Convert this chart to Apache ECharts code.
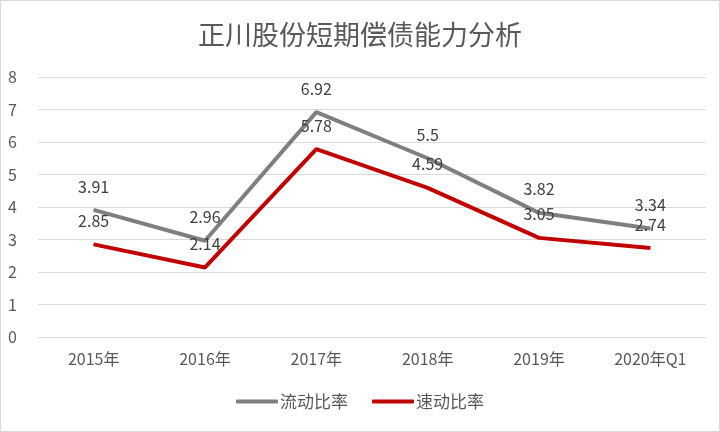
<!DOCTYPE html>
<html><head><meta charset="utf-8">
<script src="https://cdn.jsdelivr.net/npm/echarts@6/dist/echarts.min.js"></script>
<style>html,body{margin:0;padding:0;background:#fff}#c{width:720px;height:432px}</style>
</head><body><div id="c"></div>
<script>
const categories = ['2015年','2016年','2017年','2018年','2019年','2020年Q1'];
const currentRatio = [3.91, 2.96, 6.92, 5.5, 3.82, 3.34];
const quickRatio = [2.85, 2.14, 5.78, 4.59, 3.05, 2.74];
const font = '"Noto Sans CJK SC", "Noto Sans", sans-serif';
const chart = echarts.init(document.getElementById('c'));
chart.setOption({
  backgroundColor: '#fff',
  animation: false,
  title: {text: '正川股份短期偿债能力分析', left: 'center', top: 16,
    textStyle: {fontFamily: font, fontSize: 27, fontWeight: 'normal', color: '#595959'}},
  graphic: [{type: 'rect', shape: {x: 0.5, y: 0.5, width: 719, height: 431},
    style: {fill: 'none', stroke: '#d9d9d9', lineWidth: 1}, silent: true}],
  legend: {bottom: 17, itemWidth: 42, itemHeight: 4, itemGap: 24, icon: 'roundRect',
    textStyle: {fontFamily: font, fontSize: 17, color: '#595959', padding: [0, 0, 0, -3]},
    data: ['流动比率', '速动比率']},
  grid: {left: 38, right: 14, top: 77, bottom: 95},
  xAxis: {type: 'category', data: categories, boundaryGap: true,
    axisLine: {show: true, lineStyle: {color: '#d9d9d9'}}, axisTick: {show: false},
    axisLabel: {fontFamily: font, fontSize: 16, color: '#595959', margin: 14}},
  yAxis: {type: 'value', min: 0, max: 8, interval: 1,
    axisLine: {show: false}, axisTick: {show: false},
    splitLine: {lineStyle: {color: '#d9d9d9', width: 1}},
    axisLabel: {fontFamily: font, fontSize: 16, color: '#595959', margin: 21}},
  series: [
    {name: '流动比率', type: 'line', data: currentRatio, symbol: 'circle', symbolSize: 1,
      lineStyle: {color: '#7f7f7f', width: 4}, itemStyle: {color: '#7f7f7f'},
      label: {show: true, position: 'top', distance: 15, fontFamily: font, fontSize: 16, color: '#404040'}},
    {name: '速动比率', type: 'line', data: quickRatio, symbol: 'circle', symbolSize: 1,
      lineStyle: {color: '#c00000', width: 4}, itemStyle: {color: '#c00000'},
      label: {show: true, position: 'top', distance: 15, fontFamily: font, fontSize: 16, color: '#404040'}}
  ]
});
</script></body></html>
